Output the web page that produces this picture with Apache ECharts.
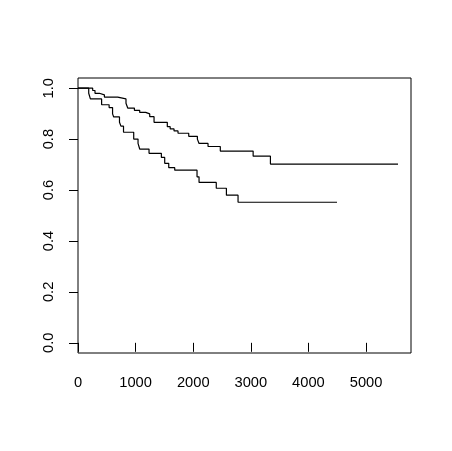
<!DOCTYPE html>
<html>
<head>
<meta charset="utf-8">
<script src="https://cdn.jsdelivr.net/npm/echarts@6/dist/echarts.min.js"></script>
<style>
  * { margin: 0; padding: 0; }
  body { background: #fff; }
  #chart { width: 452px; height: 451px; }
</style>
</head>
<body>
<div id="chart"></div>
<script>
// Kaplan-Meier curves, step times and survival
const upperTimes = [0, 255, 295, 371, 458, 689, 833, 863, 979, 1071, 1175, 1245, 1320,
  1550, 1600, 1667, 1736, 1922, 2072, 2101, 2257, 2470, 3040, 3340, 5555];
const upperSurv = [1.0, 0.991, 0.980, 0.974, 0.965, 0.958, 0.941, 0.922, 0.913, 0.905, 0.899, 0.888, 0.866,
  0.849, 0.840, 0.832, 0.823, 0.811, 0.800, 0.783, 0.771, 0.753, 0.733, 0.702, 0.702];

const lowerTimes = [0, 186, 215, 410, 540, 600, 620, 720, 745, 790, 967, 1042, 1071,
  1233, 1447, 1505, 1575, 1679, 2066, 2101, 2400, 2576, 2778, 4496];
const lowerSurv = [1.0, 0.980, 0.958, 0.935, 0.924, 0.899, 0.887, 0.866, 0.851, 0.827, 0.800, 0.783, 0.761,
  0.744, 0.728, 0.705, 0.688, 0.678, 0.652, 0.630, 0.607, 0.580, 0.552, 0.552];

const xTicks = [0, 1000, 2000, 3000, 4000, 5000];
const yTicks = [0, 0.2, 0.4, 0.6, 0.8, 1.0];

function pairs(xs, ys) {
  return xs.map((x, i) => [x, ys[i]]);
}

const chart = echarts.init(document.getElementById("chart"), null, { renderer: "canvas" });

const labelFont = {
  color: "#000",
  fontFamily: "Liberation Sans",
  fontSize: 14.7,
};

const option = {
  animation: false,
  backgroundColor: "#fff",
  grid: {
    show: true,
    left: 78,
    top: 78,
    right: 41,
    bottom: 98,
    borderColor: "#000",
    borderWidth: 1,
  },
  xAxis: {
    type: "value",
    min: 0,
    max: 5780,
    axisLine: { show: false },
    splitLine: { show: false },
    axisTick: {
      show: true,
      inside: false,
      length: 9,
      customValues: xTicks,
      lineStyle: { color: "#000", width: 1 },
    },
    axisLabel: Object.assign({
      margin: 22,
      customValues: xTicks,
      formatter: (v) => String(v),
    }, labelFont),
  },
  yAxis: {
    type: "value",
    min: -0.04,
    max: 1.04,
    axisLine: { show: false },
    splitLine: { show: false },
    axisTick: {
      show: true,
      inside: false,
      length: 9,
      customValues: yTicks,
      lineStyle: { color: "#000", width: 1 },
    },
    axisLabel: Object.assign({
      margin: 22,
      rotate: 90,
      customValues: yTicks,
      formatter: (v) => v.toFixed(1),
    }, labelFont),
  },
  series: [
    {
      name: "upper",
      type: "line",
      step: "end",
      symbol: "none",
      lineStyle: { color: "#000", width: 1.2 },
      data: pairs(upperTimes, upperSurv),
    },
    {
      name: "lower",
      type: "line",
      step: "end",
      symbol: "none",
      lineStyle: { color: "#000", width: 1.2 },
      data: pairs(lowerTimes, lowerSurv),
    },
  ],
};

chart.setOption(option);
</script>
</body>
</html>
